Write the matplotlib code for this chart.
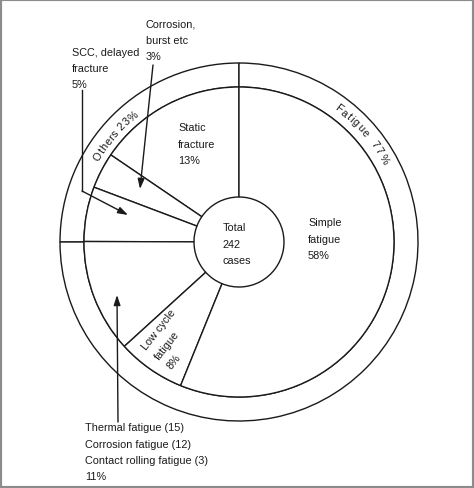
import matplotlib
matplotlib.use("Agg")
import numpy as np
import matplotlib.pyplot as plt
from matplotlib.font_manager import FontProperties
from matplotlib.textpath import text_to_path
from matplotlib.patches import Rectangle

W, H = 474, 489

# ---- data ----
inner_labels = [
    "Static\nfracture\n13%",
    "Corrosion,\nburst etc\n3%",
    "SCC, delayed\nfracture\n5%",
    "Thermal fatigue (15)\nCorrosion fatigue (12)\nContact rolling fatigue (3)\n11%",
    "Low cycle\nfatigue\n8%",
    "Simple\nfatigue\n58%",
]
inner_pct_label = [13, 3, 5, 11, 8, 58]
# share of the circle each sector occupies as drawn in the picture (%)
inner_share_drawn = [15.5, 3.75, 5.7, 11.8, 7.1, 56.15]
outer_labels = ["Others 23%", "Fatigue  77%"]
outer_share_drawn = [25, 75]
center_label = "Total\n242\ncases"

# ---- style ----
ink = "#1a1a1a"
fam = ["Liberation Sans", "DejaVu Sans"]
fs = 7.8
ls = 1.78
cx, cy = 239, H - 243
R_out, R_in, R_c = 179, 155, 45


def Y(py):
    return H - py


fig = plt.figure(figsize=(W / 100, H / 100), dpi=100)
fig.patch.set_facecolor("white")
ax = fig.add_axes([0, 0, 1, 1])

wp = dict(facecolor="white", edgecolor=ink, linewidth=1.0)
ax.pie(outer_share_drawn, radius=R_out, center=(cx, cy), startangle=90,
       counterclock=True, wedgeprops=dict(width=R_out - R_in, **wp))
ax.pie(inner_share_drawn, radius=R_in, center=(cx, cy), startangle=90,
       counterclock=True, wedgeprops=dict(width=R_in - R_c, **wp))

ax.set_xlim(0, W)
ax.set_ylim(0, H)
ax.set_aspect("auto")
ax.axis("off")

tkw = dict(fontsize=fs, family=fam, color=ink, linespacing=ls)

ax.text(146, Y(20), inner_labels[1], ha="left", va="top", **tkw)
ax.text(72, Y(48), inner_labels[2], ha="left", va="top", **tkw)
ax.text(178, Y(123.5), inner_labels[0], ha="left", va="top", **tkw)
ax.text(223, Y(223.5), center_label, ha="left", va="top", **tkw)
ax.text(308, Y(218.5), inner_labels[5], ha="left", va="top", **tkw)
ax.text(85, Y(423.5), inner_labels[3], ha="left", va="top", **tkw)
# rotated label, anchored at the baseline start of its last line
ax.text(167, Y(367), inner_labels[4], ha="left", va="baseline",
        rotation=52, rotation_mode="anchor", multialignment="left",
        fontsize=fs, family=fam, color=ink, linespacing=1.7)

# ---- curved ring labels ----
fp = FontProperties(family=fam, size=fs)


def arc_text(s, r, a0, a1):
    widths = [text_to_path.get_text_width_height_descent(ch, fp, ismath=False)[0]
              for ch in s]
    total = sum(widths)
    pos = 0.0
    for ch, w in zip(s, widths):
        c = pos + w / 2
        pos += w
        if ch == " ":
            continue
        a = a0 + (a1 - a0) * c / total
        t = np.deg2rad(a)
        ax.text(cx + r * np.cos(t), cy + r * np.sin(t), ch, ha="center",
                va="center", rotation=a - 90, rotation_mode="anchor",
                fontsize=fs, family=fam, color=ink)


arc_text(outer_labels[1], 167, 55, 28)
arc_text(outer_labels[0], 165, 150, 128)

# ---- leader arrows ----
akw = dict(arrowstyle="-|>,head_length=0.6,head_width=0.2", color=ink,
           lw=1.0, shrinkA=0, shrinkB=0)
ax.annotate("", xy=(140, Y(190)), xytext=(153, Y(66)), arrowprops=akw)
ax.plot([82, 82], [Y(91), Y(192)], color=ink, lw=1.0)
ax.annotate("", xy=(128, Y(216)), xytext=(82, Y(192)), arrowprops=akw)
ax.annotate("", xy=(117, Y(296)), xytext=(118, Y(423)), arrowprops=akw)

fig.add_artist(Rectangle((0, 0), 1, 1, transform=fig.transFigure, fill=False,
                         edgecolor="#8c8c8c", linewidth=3))

fig.savefig("out.png", dpi=100, facecolor="white")
